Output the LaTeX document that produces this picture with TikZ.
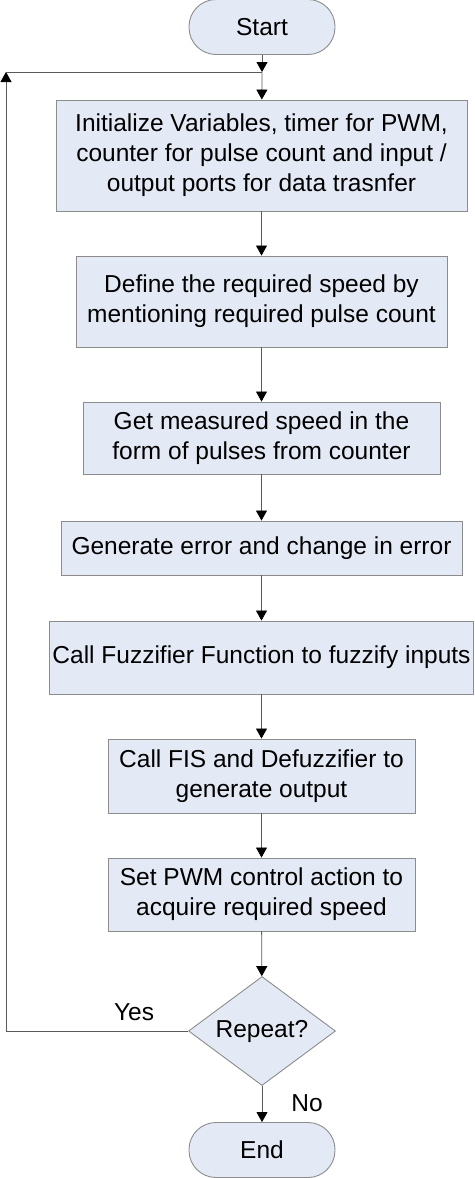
\documentclass[tikz,border=0pt]{standalone}
\usepackage{fontspec}
\setmainfont{Liberation Sans}
\usetikzlibrary{arrows.meta,shapes.geometric}
\definecolor{boxfill}{RGB}{228,234,245}
\definecolor{boxdraw}{RGB}{140,140,140}
\definecolor{linec}{RGB}{90,90,90}
\tikzset{
  base/.style={draw=boxdraw, fill=boxfill, line width=0.9pt, inner sep=0pt, align=center,
    font=\fontsize{24.5}{30}\selectfont},
  procbox/.style={base, rectangle},
  term/.style={base, rectangle, rounded corners=27pt, minimum width=146pt, minimum height=55pt},
  decis/.style={base, diamond, aspect=1.35, minimum width=147pt, minimum height=109pt},
  conn/.style={draw=linec, line width=0.8pt},
  arr/.style={conn, -{Triangle[length=10pt,width=11pt,color=black]}},
  lbl/.style={font=\fontsize{24.5}{28}\selectfont}
}
\begin{document}
\begin{tikzpicture}[x=1pt,y=-1pt]
\useasboundingbox (0,0) rectangle (474,1178);
\node[term] (start) at (262,27) {Start};
\node[procbox, minimum width=411pt, minimum height=111pt] (b1) at (261.5,155.5)
  {Initialize Variables, timer for PWM,\\counter for pulse count and input /\\output ports for data trasnfer};
\node[procbox, minimum width=371pt, minimum height=91pt] (b2) at (261.5,301.5)
  {Define the required speed by\\mentioning required pulse count};
\node[procbox, minimum width=357pt, minimum height=72pt] (b3) at (261.5,438)
  {Get measured speed in the\\form of pulses from counter};
\node[procbox, minimum width=401pt, minimum height=54pt] (b4) at (261.5,548)
  {Generate error and change in error};
\node[procbox, minimum width=424pt, minimum height=73pt] (b5) at (261.5,657.5)
  {Call Fuzzifier Function to fuzzify inputs};
\node[procbox, minimum width=307pt, minimum height=74pt] (b6) at (261.5,776)
  {Call FIS and Defuzzifier to\\generate output};
\node[procbox, minimum width=307pt, minimum height=73pt] (b7) at (261.5,894.5)
  {Set PWM control action to\\acquire required speed};
\node[decis] (rep) at (262,1031) {Repeat?};
\node[term] (end) at (262,1150) {End};
\coordinate (junc) at (262,72);
\coordinate (fbc) at (6,72);
\coordinate (fbb) at (6,1031);
\draw[arr] (start) -- (junc);
\draw[arr] (junc) -- (b1);
\draw[arr] (b1) -- (b2);
\draw[arr] (b2) -- (b3);
\draw[arr] (b3) -- (b4);
\draw[arr] (b4) -- (b5);
\draw[arr] (b5) -- (b6);
\draw[arr] (b6) -- (b7);
\draw[arr] (b7) -- (rep);
\draw[arr] (rep) -- (end);
\draw[arr] (rep.west) -- (fbb) -- (fbc);
\draw[conn] (fbc) -- (junc);
\node[lbl] (yes) at (134,1012) {Yes};
\node[lbl] (no) at (307,1103) {No};
\end{tikzpicture}
\end{document}
